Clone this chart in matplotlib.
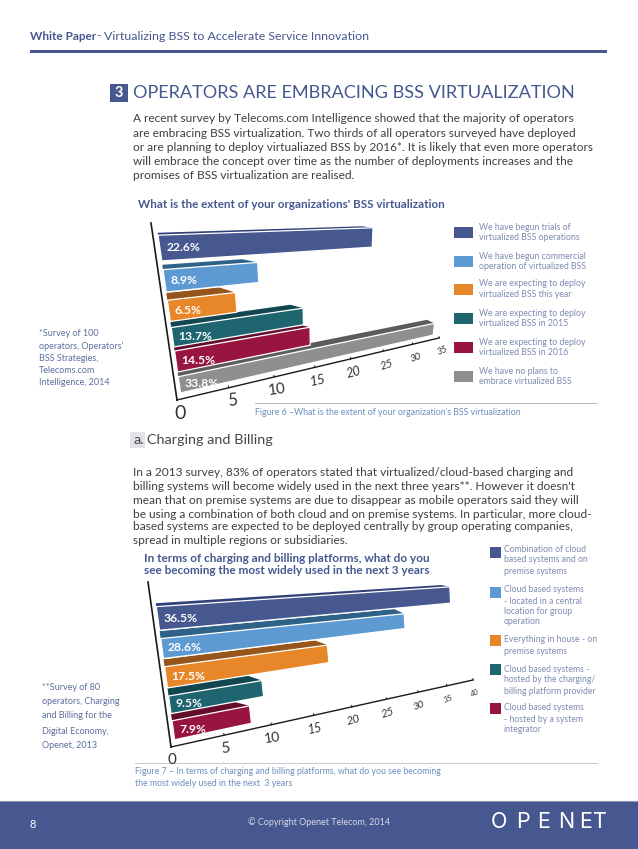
import numpy as np
import matplotlib
matplotlib.use("Agg")
import matplotlib.pyplot as plt
from matplotlib.patches import Polygon, Rectangle
from matplotlib.transforms import Transform

plt.rcParams["font.family"] = ["Lato", "DejaVu Sans"]

# chart data
labels_1 = ["We have begun trials of\nvirtualized BSS operations",
            "We have begun commercial\noperation of virtualized BSS",
            "We are expecting to deploy\nvirtualized BSS this year",
            "We are expecting to deploy\nvirtualized BSS in 2015",
            "We are expecting to deploy\nvirtualized BSS in 2016",
            "We have no plans to\nembrace virtualized BSS"]
values_1 = [22.6, 8.9, 6.5, 13.7, 14.5, 33.8]
ticks_1 = [0, 5, 10, 15, 20, 25, 30, 35]

labels_2 = ["Combination of cloud\nbased systems and on\npremise systems",
            "Cloud based systems\n- located in a central\nlocation for group\noperation",
            "Everything in house - on\npremise systems",
            "Cloud based systems -\nhosted by the charging/\nbilling platform provider",
            "Cloud based systems\n- hosted by a system\nintegrator"]
values_2 = [36.5, 28.6, 17.5, 9.5, 7.9]
ticks_2 = [0, 5, 10, 15, 20, 25, 30, 35, 40]

colors = ["#46588f", "#5e9ad2", "#e8872a", "#1f6570", "#97153f", "#8f8f8f"]
dark = ["#2f4178", "#2f6288", "#95551b", "#124650", "#640c2b", "#5c5c5c"]

BLUE = "#46588f"
TEXT = "#3f3f44"
SOFT = "#7e8bb2"


class Persp(Transform):
    # projective map from (value, row) to page pixels
    input_dims = 2
    output_dims = 2

    def __init__(self, src, dst):
        super().__init__()
        A, b = [], []
        for (x, y), (u, v) in zip(src, dst):
            A.append([x, y, 1, 0, 0, 0, -u * x, -u * y])
            A.append([0, 0, 0, x, y, 1, -v * x, -v * y])
            b += [u, v]
        self.h = np.append(np.linalg.solve(np.array(A, float), np.array(b, float)), 1).reshape(3, 3)

    def transform_non_affine(self, values):
        xy = np.column_stack([values, np.ones(len(values))]) @ self.h.T
        return xy[:, :2] / xy[:, 2:]


fig = plt.figure(figsize=(6.38, 8.49), dpi=100)
ax = fig.add_axes([0, 0, 1, 1])
ax.set_xlim(0, 638)
ax.set_ylim(849, 0)
ax.axis("off")


def put(x, y, s, size, color=TEXT, **kw):
    kw.setdefault("va", "center")
    return ax.text(x, y, s, fontsize=size, color=color, **kw)


def block(x, ys, lines, size, color=TEXT, **kw):
    for y, line in zip(ys, lines):
        put(x, y, line, size, color, **kw)


def bars(values, rows, tr, vmax, ticks, tick_sizes, tick_rot, shift, dx):
    # bottom bar first, the upper ones lie over its top face
    v0 = 0.4
    for i in range(len(values) - 1, -1, -1):
        v = values[i]
        r0, r1, r2 = rows[i]
        ax.add_patch(Polygon([(v0, r1), (v, r1), (v - shift, r2), (v0, r2)], closed=True,
                             fc=dark[i], ec="none", transform=tr, zorder=3 + (6 - i)))
        ax.add_patch(Polygon([(v0, r0), (v, r0), (v, r1), (v0, r1)], closed=True,
                             fc=colors[i], ec="white", lw=0.9, transform=tr, zorder=3 + (6 - i)))
        ax.annotate(f"{v}%", xy=(0.9, (r0 + r1) / 2), xycoords=tr, color="white",
                    fontsize=8.7, fontweight="bold", va="center", zorder=20)
    # axes lines
    ax.plot([0, vmax], [0, 0], color="#1a1a1a", lw=1.0, transform=tr, zorder=2)
    ax.plot([0, 0], [0, 1], color="#1a1a1a", lw=1.2, transform=tr, zorder=2)
    for t, s, rot in zip(ticks, tick_sizes, tick_rot):
        ax.plot([t, t], [0, 0.012], color="#1a1a1a", lw=0.7, transform=tr, zorder=2)
        ax.annotate(str(t), xy=(t, 0), xycoords=tr, xytext=(dx, -9.5), textcoords="offset points",
                    fontsize=s, rotation=rot, color="#333333", ha="center", va="center",
                    style="normal" if t < 15 else "italic")


# header
put(30, 36, "White Paper", 8.5, BLUE, fontweight="bold")
put(96, 36, "-", 8.5, BLUE)
put(104, 36, "Virtualizing BSS to Accelerate Service Innovation", 8.9, BLUE)
ax.add_patch(Rectangle((30, 50), 577, 3, fc=BLUE, ec="none"))

# section 3
ax.add_patch(Rectangle((110, 84), 18, 18, fc=BLUE, ec="none"))
put(119, 93, "3", 10.5, "white", ha="center", fontweight="bold")
put(133, 93, "OPERATORS ARE EMBRACING BSS VIRTUALIZATION", 13.1, BLUE)
body_1 = ["A recent survey by Telecoms.com Intelligence showed that the majority of operators",
          "are embracing BSS virtualization. Two thirds of all operators surveyed have deployed",
          "or are planning to deploy virtualiazed BSS by 2016*. It is likely that even more operators",
          "will embrace the concept over time as the number of deployments increases and the",
          "promises of BSS virtualization are realised."]
block(133, [118, 133, 147, 161, 175], body_1, 8.6)

# first chart
put(138, 204, "What is the extent of your organizations' BSS virtualization", 8.4, BLUE, fontweight="bold")
tr_1 = Persp([(0, 0), (35, 0), (0, 1), (35, 1)],
             [(177, 400), (439, 338), (151, 223), (452, 217)]) + ax.transData
rows_1 = [(0.81, 0.94, 0.952), (0.645, 0.765, 0.79), (0.48, 0.60, 0.64),
          (0.33, 0.445, 0.48), (0.175, 0.305, 0.34), (0.04, 0.145, 0.19)]
bars(values_1, rows_1, tr_1, 35, ticks_1, [14, 12, 11, 10, 9, 8, 7, 6.5],
     [0, 5, 8, 12, 15, 18, 20, 22], 1.5, 2.5)

swatch_y_1 = [232, 261, 289, 318, 347, 376]
for i, (y, lab) in enumerate(zip(swatch_y_1, labels_1)):
    ax.add_patch(Rectangle((454, y - 5.5), 19, 11, fc=colors[i], ec="none"))
    a, b = lab.split("\n")
    put(479, y - 5, a, 6.3, SOFT)
    put(479, y + 5.5, b, 6.3, SOFT)

block(39, [333, 346, 358, 370, 382],
      ["*Survey of 100", "operators, Operators'", "BSS Strategies,", "Telecoms.com", "Intelligence, 2014"],
      6.5, "#5d6f9e")
ax.plot([255, 597], [403, 403], color="#b9bcc6", lw=0.8)
put(255, 412, "Figure 6 –What is the extent of your organization's BSS virtualization", 6.3, "#6b8fbd")

# section a
ax.add_patch(Rectangle((130, 432), 15, 16, fc="#e2e3e6", ec="none"))
put(133, 440, "a.", 10.4, "#44444c")
put(147, 440, "Charging and Billing", 10.4, "#44444c")
body_2 = ["In a 2013 survey, 83% of operators stated that virtualized/cloud-based charging and",
          "billing systems will become widely used in the next three years**. However it doesn't",
          "mean that on premise systems are due to disappear as mobile operators said they will",
          "be using a combination of both cloud and on premise systems. In particular, more cloud-",
          "based systems are expected to be deployed centrally by group operating companies,",
          "spread in multiple regions or subsidiaries."]
block(133, [472, 486, 500, 514, 527, 540], body_2, 8.6)

# second chart
put(144, 558, "In terms of charging and billing platforms, what do you", 8.45, BLUE, fontweight="bold")
put(144, 571, "see becoming the most widely used in the next 3 years", 8.45, BLUE, fontweight="bold")
tr_2 = Persp([(0, 0), (40, 0), (0, 1), (40, 1)],
             [(171, 747), (473, 680), (148, 582), (468, 569)]) + ax.transData
rows_2 = [(0.715, 0.855, 0.875), (0.545, 0.665, 0.71), (0.365, 0.495, 0.54),
          (0.205, 0.315, 0.365), (0.04, 0.16, 0.205)]
bars(values_2, rows_2, tr_2, 40, ticks_2, [11, 11, 10, 9, 8.5, 8, 7, 6, 5.5],
     [0, 5, 8, 12, 15, 18, 20, 22, 24], 1.5, 1)

swatch_y_2 = [552, 592, 640, 669, 708]
text_y_2 = [[549, 560, 571], [590, 601, 612, 622], [640, 651], [669, 680, 691], [708, 719, 730]]
for i, (y, ys, lab) in enumerate(zip(swatch_y_2, text_y_2, labels_2)):
    ax.add_patch(Rectangle((490, y - 5.5), 11, 11, fc=colors[i], ec="none"))
    block(504, ys, lab.split("\n"), 6.2, SOFT)

block(42, [687, 702, 716, 731, 745],
      ["**Survey of 80", "operators, Charging", "and Billing for the", "Digital Economy,", "Openet, 2013"],
      6.5, "#5d6f9e")
ax.plot([135, 597], [763, 763], color="#c9cbd3", lw=0.8)
block(135, [772, 784],
      ["Figure 7 – In terms of charging and billing platforms, what do you see becoming",
       "the most widely used in the next  3 years"], 6.3, "#6b8fbd")

# footer
ax.add_patch(Rectangle((0, 801), 638, 48, fc=BLUE, ec="none"))
ax.plot([0, 638], [801, 801], color="#8a97bd", lw=0.8)
put(33, 824, "8", 8, "white", ha="center")
put(319, 822, "© Copyright Openet Telecom, 2014", 6.5, "#d5d9e6", ha="center")
for cx, ch in zip([499, 523, 544, 566, 586, 600], "OPENET"):
    put(cx, 822, ch, 15.5, "white", ha="center", family="Inter")

fig.savefig("out.png", dpi=100)
